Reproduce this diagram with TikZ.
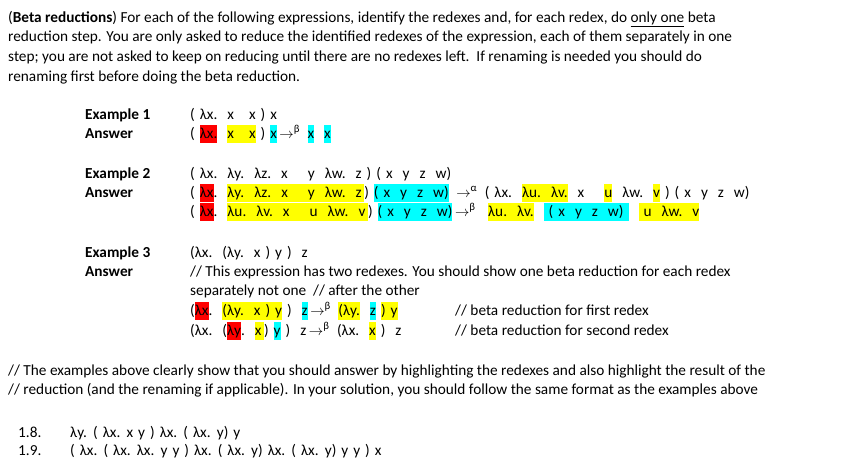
\documentclass[tikz,border=0pt]{standalone}
\usepackage{fontspec}
\setmainfont{Carlito}
\definecolor{hr}{HTML}{FF0000}
\definecolor{hy}{HTML}{FFFF00}
\definecolor{hc}{HTML}{00FFFF}
\newlength\wsp
\setlength\wsp{5pt}
\newcommand\widesp{\spaceskip=\wsp}
\newcommand\hl[2]{{\setlength\fboxsep{0pt}\colorbox{#1}{\strut #2}}}
\newcommand\ar[1]{\,$\rightarrow$\textsuperscript{#1}\,}
\begin{document}
\begin{tikzpicture}[x=1pt,y=-1pt,
  t/.style={anchor=base west,inner sep=0pt,font=\fontsize{15.3}{18}\selectfont},
  e/.style={anchor=base west,inner sep=0pt,font=\fontsize{15.3}{18}\selectfont\widesp},
  b/.style={t,font=\fontsize{15.3}{18}\selectfont\bfseries}]
\useasboundingbox[fill=white] (0,0) rectangle (862,471);
\node[t] (p1) at (8,22) {(\textbf{Beta reductions}) For each of the following expressions, identify the redexes and, for each redex, do \underline{only one} beta};
\node[t] (p2) at (8,41) {reduction step. You are only asked to reduce the identified redexes of the expression, each of them separately in one};
\node[t] (p3) at (8,61) {step; you are not asked to keep on reducing until there are no redexes left.\ \ If renaming is needed you should do};
\node[t] (p4) at (8,81) {renaming first before doing the beta reduction.};
\node[b] (e1) at (85,119) {Example 1};
\node[b] (a1) at (85,138) {Answer};
\node[e] (e1x) at (190,119) {( λx.\ \ x\ \ \ x ) x};
\node[e] (a1x) at (190,138) {( \hl{hr}{λx.}\ \ \hl{hy}{x\ \ \ x} ) \hl{hc}{x}\ar{β} \hl{hc}{x}\ \ \hl{hc}{x}};
\node[b] (e2) at (85,178) {Example 2};
\node[b] (a2) at (85,197) {Answer};
\node[e] (e2x) at (190,178) {( λx.\ \ λy.\ \ λz.\ \ x\ \ \ \ y\ \ λw.\ \ z ) ( x\ \ y\ \ z\ \ w)};
\node[e] (a2x) at (190,197) {( \hl{hr}{λx}.\ \ \hl{hy}{λy.\ \ λz.\ \ x\ \ \ \ y\ \ λw.\ \ z\,}) \hl{hc}{( x\ \ y\ \ z\ \ w)}\ \ar{α} ( λx.\ \ \hl{hy}{λu.\ \ λv.}\ \ x\ \ \ \ \hl{hy}{u}\ \ λw.\ \ \hl{hy}{v} ) ( x\ \ y\ \ z\ \ w)};
\node[e] (a2y) at (190,216) {( \hl{hr}{λx}.\ \ \hl{hy}{λu.\ \ λv.\ \ x\ \ \ \ u\ \ λw.\ \ v\,}) \hl{hc}{( x\ \ y\ \ z\ \ w)}\ar{β}\ \ \hl{hy}{λu.\ \ λv.}\ \ \hl{hc}{\ ( x\ \ y\ \ z\ \ w)\ }\ \ \hl{hy}{\ u\ \ λw.\ \ v}};
\node[b] (e3) at (85,257) {Example 3};
\node[b] (a3) at (85,276) {Answer};
\node[e] (e3x) at (190,257) {(λx.\ \ (λy.\ \ x ) y )\ \ z};
\node[t] (c1) at (190,276) {// This expression has two redexes. You should show one beta reduction for each redex};
\node[t] (c2) at (190,295) {separately not one\ \ // after the other};
\node[e] (r1) at (190,315) {(\hl{hr}{λx}.\ \ \hl{hy}{(λy.\ \ x ) y}\ )\ \ \hl{hc}{z}\ar{β}\ \hl{hy}{(λy.}\ \ \hl{hc}{z}\ \hl{hy}{) y}};
\node[e] (r2) at (190,335) {(λx.\ \ (\hl{hr}{λy}.\ \ \hl{hy}{x\,}) \hl{hc}{y}\ )\ \ z\ar{β} (λx.\ \ \hl{hy}{x}\ )\ \ z};
\node[t] (k1) at (455,315) {// beta reduction for first redex};
\node[t] (k2) at (455,335) {// beta reduction for second redex};
\node[t] (n1) at (8,375) {// The examples above clearly show that you should answer by highlighting the redexes and also highlight the result of the};
\node[t] (n2) at (8,394) {// reduction (and the renaming if applicable). In your solution, you should follow the same format as the examples above};
\node[t] (q1) at (18,437) {1.8.};
\node[e] (q1x) at (70,437) {λy. ( λx. x y ) λx. ( λx. y) y};
\node[t] (q2) at (18,455) {1.9.};
\node[e] (q2x) at (70,455) {( λx. ( λx. λx. y y ) λx. ( λx. y) λx. ( λx. y) y y ) x};
\end{tikzpicture}
\end{document}
